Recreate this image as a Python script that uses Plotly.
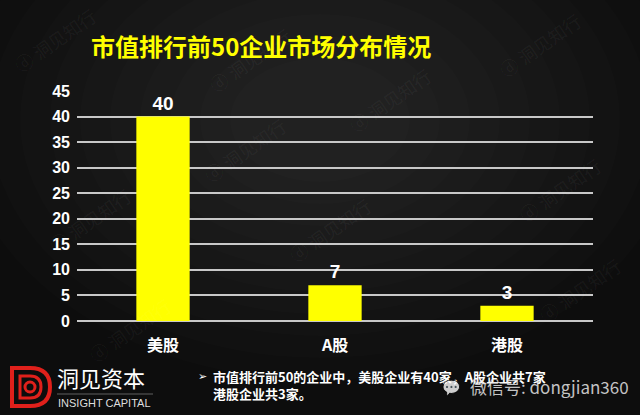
import plotly.graph_objects as go

categories = ["美股", "A股", "港股"]
values = [40, 7, 3]
tick_vals = [0, 5, 10, 15, 20, 25, 30, 35, 40, 45]
title_text = "市值排行前50企业市场分布情况"
note_line1 = "市值排行前50的企业中，美股企业有40家，A股企业共7家"
note_line2 = "港股企业共3家。"

FONT = "Noto Sans CJK SC"

fig = go.Figure()
fig.add_trace(go.Bar(
    x=categories, y=values,
    marker=dict(color="#ffff00", line=dict(width=0)),
    width=0.31,
    text=[str(v) for v in values],
    textposition="outside",
    textfont=dict(color="white", size=19, family="Liberation Sans", weight="bold"),
    cliponaxis=False,
))


def px(x):
    return (x - 77) / 516


def py(y):
    return (321 - y) / 230


shapes = []
# soft spotlight background
for i in range(10):
    rx = 360 - i * 30
    ry = 260 - i * 22
    cx, cy = 320, 120
    shapes.append(dict(type="circle", xref="paper", yref="paper",
                       x0=px(cx - rx), x1=px(cx + rx),
                       y0=py(cy + ry), y1=py(cy - ry),
                       fillcolor="rgba(255,255,255,0.012)", line=dict(width=0), layer="below"))

# red D logo
shapes.append(dict(type="path", xref="paper", yref="paper",
                   path=f"M {px(12)} {py(368)} L {px(30)} {py(368)} "
                        f"Q {px(50)} {py(368)} {px(50)} {py(387)} "
                        f"Q {px(50)} {py(406)} {px(30)} {py(406)} L {px(12)} {py(406)} Z",
                   fillcolor="rgba(0,0,0,0)", line=dict(color="#e0201b", width=4)))
shapes.append(dict(type="path", xref="paper", yref="paper",
                   path=f"M {px(20)} {py(376)} L {px(30)} {py(376)} "
                        f"Q {px(41)} {py(376)} {px(41)} {py(387)} "
                        f"Q {px(41)} {py(398)} {px(30)} {py(398)} L {px(20)} {py(398)} Z",
                   fillcolor="rgba(0,0,0,0)", line=dict(color="#e0201b", width=3)))
shapes.append(dict(type="circle", xref="paper", yref="paper",
                   x0=px(25), x1=px(35), y0=py(392), y1=py(382),
                   fillcolor="rgba(0,0,0,0)", line=dict(color="#e0201b", width=3)))
# separator under logo text
shapes.append(dict(type="line", xref="paper", yref="paper",
                   x0=px(57), x1=px(153), y0=py(394), y1=py(394),
                   line=dict(color="rgba(255,255,255,0.35)", width=1)))


def ann(text, x, y, size, color="white", family=FONT, weight="normal", xanchor="left", **kw):
    return dict(text=text, x=px(x), y=py(y), xref="paper", yref="paper",
                xanchor=xanchor, yanchor="middle", showarrow=False,
                font=dict(color=color, size=size, family=family, weight=weight), **kw)


annotations = [
    ann(title_text, 261, 45, 24, color="#ffff00", weight="bold", xanchor="center"),
    ann("洞见资本", 55, 377, 22),
    ann("INSIGHT CAPITAL", 56, 403, 11, color="#dddddd", family="Liberation Sans"),
    ann("➢", 196, 376, 11, family="DejaVu Sans"),
    ann(note_line1 + "<br>" + note_line2, 211, 384.5, 13, weight="bold", align="left"),
    ann("💬", 440, 388, 15, color="rgba(255,255,255,0.8)", family="DejaVu Sans"),
    ann("微信号: dongjian360", 468, 386, 17, color="rgba(230,230,230,0.85)"),
]

# faint diagonal watermarks
for (wx, wy) in [(55, 40), (250, 60), (540, 45), (90, 220), (245, 150), (390, 100),
                 (560, 190), (330, 230), (130, 330), (580, 290)]:
    annotations.append(ann("ⓓ 洞见知行", wx, wy, 18, color="rgba(255,255,255,0.05)",
                           xanchor="center", textangle=-35))

fig.update_layout(
    width=640, height=415,
    margin=dict(l=77, r=47, t=91, b=94),
    paper_bgcolor="#0d0d0d",
    plot_bgcolor="rgba(0,0,0,0)",
    showlegend=False,
    shapes=shapes,
    annotations=annotations,
    yaxis=dict(range=[0, 45], tickvals=tick_vals, showgrid=True,
               gridcolor="#c8c8c8", gridwidth=2, zeroline=True, zerolinecolor="#c8c8c8",
               zerolinewidth=2, showline=False, ticks="",
               tickfont=dict(color="white", size=16, family="Liberation Sans", weight="bold"),
               ticklabelstandoff=6),
    xaxis=dict(showgrid=False, showline=False, ticks="",
               tickfont=dict(color="white", size=16, family=FONT, weight="bold"),
               ticklabelstandoff=13),
)

fig.write_html("out.html", config={"displayModeBar": False},
               post_script="document.body.style.margin='0';document.body.style.background='#0d0d0d';")
